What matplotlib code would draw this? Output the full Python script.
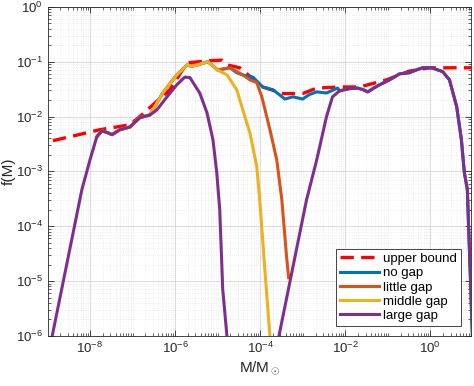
import numpy as np
import matplotlib.pyplot as plt
from matplotlib.ticker import FixedLocator, LogLocator, NullFormatter, LogFormatterSciNotation

plt.rcParams['font.family'] = 'Liberation Sans'
plt.rcParams['mathtext.fontset'] = 'custom'
plt.rcParams['mathtext.rm'] = 'Liberation Sans'
plt.rcParams['mathtext.it'] = 'Liberation Sans:italic'
plt.rcParams['mathtext.bf'] = 'Liberation Sans:bold'

# values, as log10(M/Msun) and log10 f(M)
bound_lx = [-8.87, -7.77, -7.06, -6.83, -6.47, -6.12, -5.72, -5.18, -4.90, -4.76,
            -4.48, -3.94, -3.47, -3.00, -2.67, -2.13, -1.66, -1.03, -0.49, -0.02, 0.97]
bound_ly = [-2.44, -2.24, -2.15, -2.00, -1.75, -1.51, -1.02, -0.98, -0.97, -1.06,
            -1.11, -1.46, -1.58, -1.58, -1.48, -1.46, -1.46, -1.33, -1.17, -1.11, -1.11]

# shared low-mass part (rising edge of the peak)
low_lx = [-7.84, -7.72, -7.60, -7.48, -7.30, -7.06, -6.83, -6.59]
low_ly = [-2.37, -2.26, -2.29, -2.33, -2.24, -2.19, -2.02, -1.97]

# shared high-mass part
high_lx = [-2.13, -1.90, -1.71, -1.58, -1.47, -1.33, -1.19, -0.96, -0.72, -0.60, -0.49,
           -0.33, -0.18, 0.03, 0.29, 0.45, 0.62, 0.73, 0.80, 0.87, 0.99]
high_ly = [-1.53, -1.49, -1.48, -1.51, -1.55, -1.48, -1.42, -1.33, -1.22, -1.21, -1.20,
           -1.15, -1.11, -1.11, -1.18, -1.33, -1.82, -2.42, -3.02, -3.33, -6.01]

# peak shared by no/little/middle gap
peak_lx = [-6.29, -5.96, -5.72, -5.60, -5.49, -5.23, -5.10, -5.00]
peak_ly = [-1.57, -1.24, -1.06, -1.08, -1.06, -1.00, -1.08, -1.15]

nogap_lx = [-4.85, -4.71, -4.55, -4.41, -4.17, -3.94, -3.70, -3.55, -3.42, -3.23, -3.00,
            -2.85, -2.67, -2.44, -2.18]
nogap_ly = [-1.13, -1.11, -1.20, -1.24, -1.28, -1.46, -1.51, -1.60, -1.68, -1.64, -1.68,
            -1.60, -1.55, -1.57, -1.48]

little_lx = [-4.85, -4.71, -4.41, -4.24, -4.08, -3.96, -3.77, -3.61, -3.49, -3.38, -3.33]
little_ly = [-1.13, -1.11, -1.24, -1.33, -1.38, -1.64, -2.24, -2.79, -3.52, -4.55, -4.94]

middle_lx = [-4.78, -4.55, -4.36, -4.24, -4.08, -4.01, -3.89, -3.77]
middle_ly = [-1.24, -1.51, -2.00, -2.30, -2.91, -3.52, -4.79, -6.01]

large_left_lx = [-8.89, -8.19, -8.00]
large_left_ly = [-6.01, -3.33, -2.79]
large_peak_lx = [-6.43, -6.19, -5.96, -5.77, -5.65, -5.42, -5.25, -5.11, -5.02, -4.95, -4.88, -4.78]
large_peak_ly = [-1.88, -1.64, -1.42, -1.28, -1.29, -1.57, -1.93, -2.42, -3.02, -3.70, -5.15, -6.01]
large_right_lx = [-3.56, -2.91, -2.67, -2.44, -2.30]
large_right_ly = [-6.01, -3.52, -2.79, -2.00, -1.64]

nogap_x = low_lx + peak_lx + nogap_lx + high_lx
nogap_y = low_ly + peak_ly + nogap_ly + high_ly
little_x = low_lx + peak_lx + little_lx
little_y = low_ly + peak_ly + little_ly
middle_x = low_lx + peak_lx + middle_lx
middle_y = low_ly + peak_ly + middle_ly
large_x = large_left_lx + low_lx + large_peak_lx + [np.nan] + large_right_lx + high_lx
large_y = large_left_ly + low_ly + large_peak_ly + [np.nan] + large_right_ly + high_ly

fig = plt.figure(figsize=(4.74, 3.86), dpi=100)
ax = fig.add_axes([0.101, 0.13, 0.893, 0.852])

ax.plot(10**np.array(bound_lx), 10**np.array(bound_ly), color='#FF0000', lw=2.4,
        dashes=(4, 2.2), label='upper bound')
ax.plot(10**np.array(nogap_x), 10**np.array(nogap_y), color='#0072BD', lw=2.2, label='no gap')
ax.plot(10**np.array(little_x), 10**np.array(little_y), color='#D95319', lw=2.2, label='little gap')
ax.plot(10**np.array(middle_x), 10**np.array(middle_y), color='#EDB120', lw=2.2, label='middle gap')
ax.plot(10**np.array(large_x), 10**np.array(large_y), color='#7E2F8E', lw=2.2, label='large gap')

ax.set_xscale('log')
ax.set_yscale('log')
ax.set_xlim(10**-8.99, 10**0.96)
ax.set_ylim(1e-6, 1)

ax.xaxis.set_major_locator(FixedLocator([1e-8, 1e-6, 1e-4, 1e-2, 1e0]))
ax.xaxis.set_major_formatter(LogFormatterSciNotation())
ax.xaxis.set_minor_locator(LogLocator(base=10, subs=np.arange(1, 10), numticks=100))
ax.xaxis.set_minor_formatter(NullFormatter())
ax.yaxis.set_major_locator(FixedLocator([1e-6, 1e-5, 1e-4, 1e-3, 1e-2, 1e-1, 1e0]))
ax.yaxis.set_major_formatter(LogFormatterSciNotation())
ax.yaxis.set_minor_locator(LogLocator(base=10, subs=np.arange(2, 10), numticks=100))
ax.yaxis.set_minor_formatter(NullFormatter())

ax.tick_params(which='both', direction='in', top=True, right=True, colors='#262626',
               labelsize=9.5)
ax.tick_params(which='major', length=4, width=0.6)
ax.tick_params(which='minor', length=2, width=0.5)
for s in ax.spines.values():
    s.set_color('#262626')
    s.set_linewidth(0.6)

ax.grid(True, which='major', color='#d5d5d5', lw=0.6)
ax.grid(True, which='minor', color='#e4e4e4', lw=0.5, linestyle=':')
ax.set_axisbelow(True)

ax.set_xlabel(r'M/M$_\odot$', fontsize=11, color='#262626', labelpad=3)
ax.set_ylabel('f(M)', fontsize=11, color='#262626')
ax.yaxis.set_label_coords(-0.075, 0.5)

leg = ax.legend(loc='lower right', fontsize=9.5, handlelength=3.0, fancybox=False,
                framealpha=1, edgecolor='#262626', borderaxespad=0.75,
                borderpad=0.3, labelspacing=0.15, handletextpad=0.3)
leg.get_frame().set_linewidth(0.6)

fig.savefig('out.png', dpi=100)
